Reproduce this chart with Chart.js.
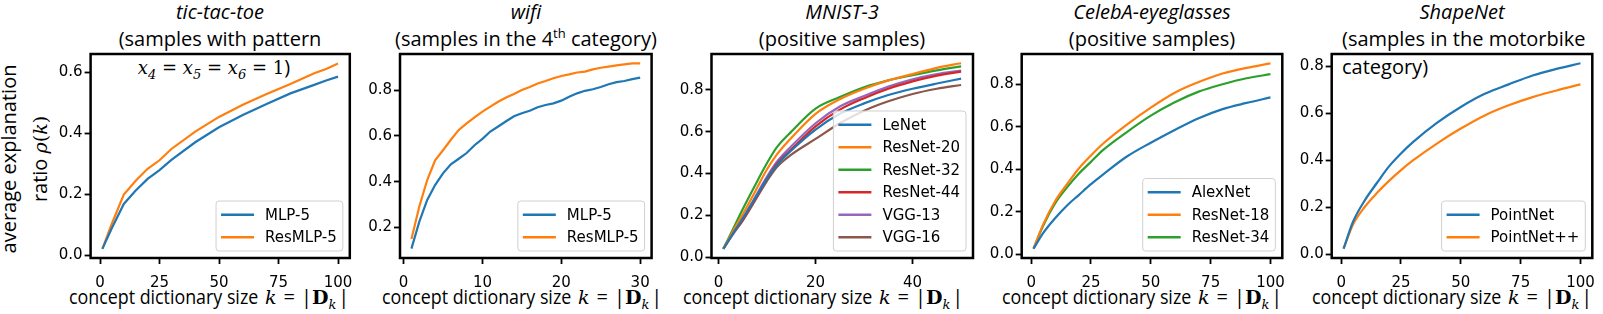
<!DOCTYPE html>
<html>
<head>
<meta charset="utf-8">
<script src="https://cdn.jsdelivr.net/npm/chart.js@4.4.1/dist/chart.umd.min.js"></script>
<style>
  body { margin: 0; width: 1603px; height: 314px; background: #fff; position: relative; overflow: hidden; font-family: "Open Sans", sans-serif; color: #000; }
  canvas { position: absolute; top: 0; }
  .t { position: absolute; white-space: nowrap; font-size: 20px; line-height: 20px; }
  .c { transform: translateX(-50%); }
  .m { font-family: "DejaVu Serif", serif; font-style: italic; font-size: 19px; }
  .m b { font-style: normal; }
  sub, sup { font-size: 13px; line-height: 0; }
  .ylab { position: absolute; left: 24px; top: 159px; transform: translate(-50%, -50%) rotate(-90deg); font-size: 20px; line-height: 31px; text-align: center; white-space: nowrap; }
  .xl { transform-origin: 0 0; }
</style>
</head>
<body>

<div class="t c" style="left:220px; top:2px; font-style:italic">tic-tac-toe</div>
<div class="t c" style="left:220px; top:29px">(samples with pattern</div>
<div class="t c" style="left:214px; top:57px"><span class="m" style="font-size:18px">x<sub>4</sub> = x<sub>5</sub> = x<sub>6</sub> = </span><span class="m" style="font-style:normal; font-size:18px">1</span>)</div>

<div class="t c" style="left:526px; top:2px; font-style:italic">wifi</div>
<div class="t c" style="left:526px; top:29px">(samples in the 4<sup>th</sup> category)</div>

<div class="t c" style="left:842px; top:2px; font-style:italic">MNIST-3</div>
<div class="t c" style="left:842px; top:29px">(positive samples)</div>

<div class="t c" style="left:1152px; top:2px; font-style:italic">CelebA-eyeglasses</div>
<div class="t c" style="left:1152px; top:29px">(positive samples)</div>

<div class="t c" style="left:1462px; top:2px; font-style:italic">ShapeNet</div>
<div class="t" style="left:1342px; top:29px">(samples in the motorbike</div>
<div class="t" style="left:1342px; top:57px">category)</div>

<div class="ylab">average explanation<br>ratio <span class="m">ρ</span><span class="m" style="font-style:normal">(</span><span class="m">k</span><span class="m" style="font-style:normal">)</span></div>

<div id="xlabels"></div>

<canvas id="p1"></canvas>
<canvas id="p2"></canvas>
<canvas id="p3"></canvas>
<canvas id="p4"></canvas>
<canvas id="p5"></canvas>

<script>
// tic-tac-toe
const tttK      = [1, 5, 10, 15, 20, 25, 30, 40, 50, 60, 70, 80, 90, 95, 100]
const tttMLP    = [0.022, 0.090, 0.169, 0.213, 0.251, 0.280, 0.313, 0.371, 0.420, 0.460, 0.496, 0.531, 0.559, 0.573, 0.586]
const tttResMLP = [0.022, 0.105, 0.200, 0.245, 0.284, 0.312, 0.349, 0.406, 0.454, 0.494, 0.529, 0.562, 0.597, 0.611, 0.629]

// wifi
const wifiK      = [1, 2, 3, 4, 5, 6, 7, 8, 9, 10, 11, 12, 13, 14, 15, 16, 17, 18, 19, 20, 21, 22, 23, 24, 25, 26, 27, 28, 29, 30]
const wifiMLP    = [0.107, 0.225, 0.320, 0.385, 0.436, 0.476, 0.500, 0.525, 0.559, 0.587, 0.619, 0.641, 0.664, 0.686, 0.699, 0.710, 0.725, 0.735, 0.742, 0.754, 0.771, 0.786, 0.797, 0.804, 0.814, 0.826, 0.835, 0.840, 0.848, 0.855]
const wifiResMLP = [0.149, 0.291, 0.407, 0.493, 0.537, 0.583, 0.626, 0.655, 0.681, 0.706, 0.728, 0.749, 0.768, 0.783, 0.801, 0.814, 0.829, 0.840, 0.852, 0.862, 0.869, 0.877, 0.881, 0.891, 0.898, 0.903, 0.908, 0.913, 0.917, 0.917]

// MNIST-3
const mnistK    = [1, 3, 5, 7, 10, 12, 15, 20, 25, 30, 35, 40, 45, 50]
const lenet     = [0.04, 0.115, 0.185, 0.26, 0.375, 0.44, 0.51, 0.61, 0.685, 0.735, 0.775, 0.805, 0.83, 0.853]
const resnet20  = [0.04, 0.125, 0.205, 0.29, 0.42, 0.49, 0.57, 0.685, 0.755, 0.805, 0.845, 0.875, 0.905, 0.927]
const resnet32  = [0.04, 0.135, 0.23, 0.32, 0.45, 0.525, 0.60, 0.71, 0.765, 0.812, 0.845, 0.87, 0.893, 0.912]
const resnet44  = [0.04, 0.115, 0.18, 0.255, 0.375, 0.445, 0.515, 0.625, 0.705, 0.76, 0.805, 0.84, 0.868, 0.887]
const vgg13     = [0.04, 0.115, 0.185, 0.265, 0.385, 0.455, 0.53, 0.64, 0.72, 0.77, 0.815, 0.85, 0.875, 0.892]
const vgg16     = [0.04, 0.11, 0.175, 0.25, 0.365, 0.43, 0.49, 0.565, 0.64, 0.70, 0.745, 0.78, 0.805, 0.823]

// CelebA-eyeglasses
const celebK    = [1, 5, 10, 15, 20, 25, 30, 40, 50, 60, 70, 80, 90, 100]
const alexnet   = [0.027, 0.10, 0.17, 0.23, 0.28, 0.33, 0.375, 0.46, 0.525, 0.585, 0.64, 0.683, 0.712, 0.738]
const resnet18  = [0.027, 0.14, 0.25, 0.33, 0.405, 0.465, 0.52, 0.61, 0.69, 0.76, 0.81, 0.85, 0.877, 0.898]
const resnet34  = [0.027, 0.135, 0.24, 0.315, 0.38, 0.435, 0.49, 0.575, 0.652, 0.715, 0.765, 0.80, 0.828, 0.847]

// ShapeNet
const shapeK     = [1, 5, 10, 15, 20, 25, 30, 40, 50, 60, 70, 80, 90, 100]
const pointnet   = [0.024, 0.140, 0.232, 0.305, 0.375, 0.43, 0.478, 0.56, 0.628, 0.684, 0.724, 0.762, 0.79, 0.814]
const pointnetPP = [0.024, 0.128, 0.204, 0.262, 0.313, 0.359, 0.400, 0.472, 0.536, 0.592, 0.635, 0.67, 0.698, 0.724]

// tick labels
const ticks100    = [0, 25, 50, 75, 100]
const ticksWifiX  = [0, 10, 20, 30]
const ticksMnistX = [0, 20, 40]
const tttY        = [0, 0.2, 0.4, 0.6]
const wifiY       = [0.2, 0.4, 0.6, 0.8]
const fullY       = [0, 0.2, 0.4, 0.6, 0.8]

// x axis label text, one per panel (left edge of each label)
const xLabelText = "concept dictionary size"
const xLabelLeft = [69, 382, 683, 1002, 1312]

const C = ["#1f77b4", "#ff7f0e", "#2ca02c", "#d62728", "#9467bd", "#8c564b"]
const TOP = 54, BOTTOM = 258, H = 314, YW = 50

// x labels: sans part squeezed to the narrow width of the original font, math part after it
const xl = document.getElementById("xlabels")
xLabelLeft.forEach(left => {
  const t = document.createElement("div")
  t.className = "t xl"
  t.style.left = left + "px"
  t.style.top = "287px"
  t.textContent = xLabelText
  xl.appendChild(t)
  t.style.transform = `scaleX(${189 / t.offsetWidth})`

  const m = document.createElement("div")
  m.className = "t"
  m.style.left = (left + 196) + "px"
  m.style.top = "287px"
  m.innerHTML = '<span class="m">k</span><span style="margin:0 6px 0 7px">=</span>|<span class="m"><b>D</b><sub>k</sub></span><span style="margin-left:2px">|</span>'
  xl.appendChild(m)
})

const frameLegend = {
  id: "frameLegend",
  afterDatasetsDraw(chart) {
    const { ctx, chartArea: a } = chart
    const labels = chart.data.datasets.map(d => d.label)
    ctx.save()
    ctx.font = '15px "DejaVu Sans"'
    const textW = Math.max(...labels.map(l => ctx.measureText(l).width))
    const rowH = 22.5, padV = 2.5, handle = 33
    const w = 5 + handle + 11 + textW + 6
    const h = labels.length * rowH + padV * 2
    const x = a.right - 7 - w, y = a.bottom - 7 - h
    ctx.beginPath()
    ctx.roundRect(x, y, w, h, 3)
    ctx.fillStyle = "rgba(255,255,255,0.8)"
    ctx.fill()
    ctx.strokeStyle = "#d0d0d0"
    ctx.lineWidth = 1
    ctx.stroke()
    labels.forEach((l, i) => {
      const cy = y + padV + rowH * (i + 0.5)
      ctx.strokeStyle = chart.data.datasets[i].borderColor
      ctx.lineWidth = 2.5
      ctx.beginPath()
      ctx.moveTo(x + 5, cy)
      ctx.lineTo(x + 5 + handle, cy)
      ctx.stroke()
      ctx.fillStyle = "#000"
      ctx.textBaseline = "middle"
      ctx.fillText(l, x + 5 + handle + 11, cy + 1)
    })
    ctx.strokeStyle = "#000"
    ctx.lineWidth = 2.5
    ctx.strokeRect(a.left, a.top, a.width, a.height)
    ctx.restore()
  }
}

function panel(id, L, R, xr, yr, xTicks, yTicks, series, smooth) {
  const el = document.getElementById(id)
  const cl = Math.floor(L) - 70
  const cw = Math.ceil(R) + 30 - cl
  el.width = cw
  el.height = H
  el.style.left = cl + "px"
  const font = { family: "DejaVu Sans", size: 15 }
  const grid = { drawOnChartArea: false, drawTicks: true, tickLength: 6, tickWidth: 1.8, tickColor: "#000" }

  new Chart(el, {
    type: "line",
    data: {
      datasets: series.map(s => ({
        label: s.label,
        data: s.k.map((k, j) => ({ x: k, y: s.v[j] })),
        borderColor: s.color,
        borderWidth: 2.2,
        pointRadius: 0,
        cubicInterpolationMode: smooth ? "monotone" : "default",
        tension: 0,
        fill: false
      }))
    },
    options: {
      responsive: false,
      animation: false,
      layout: { padding: { left: L - cl - YW, right: cl + cw - R, top: TOP, bottom: 0 } },
      plugins: { legend: { display: false }, tooltip: { enabled: false } },
      scales: {
        x: {
          type: "linear",
          min: xr[0], max: xr[1],
          afterBuildTicks: s => { s.ticks = xTicks.map(v => ({ value: v })) },
          afterFit: s => { s.height = H - BOTTOM },
          ticks: { font, color: "#000", padding: 10, maxRotation: 0, autoSkip: false, callback: v => String(v) },
          grid,
          border: { display: false }
        },
        y: {
          min: yr[0], max: yr[1],
          afterBuildTicks: s => { s.ticks = yTicks.map(v => ({ value: v })) },
          afterFit: s => { s.width = YW },
          ticks: { font, color: "#000", padding: 2, autoSkip: false, callback: v => v.toFixed(1) },
          grid,
          border: { display: false }
        }
      }
    },
    plugins: [frameLegend]
  })
}

panel("p1", 90.6, 349.8, [-3.95, 104.95], [-0.008, 0.66], ticks100, tttY, [
  { label: "MLP-5",    k: tttK, v: tttMLP,    color: C[0] },
  { label: "ResMLP-5", k: tttK, v: tttResMLP, color: C[1] }
], false)

panel("p2", 400, 651.6, [-0.45, 31.45], [0.066, 0.958], ticksWifiX, wifiY, [
  { label: "MLP-5",    k: wifiK, v: wifiMLP,    color: C[0] },
  { label: "ResMLP-5", k: wifiK, v: wifiResMLP, color: C[1] }
], false)

panel("p3", 711.5, 973, [-1.45, 52.45], [-0.004, 0.971], ticksMnistX, fullY, [
  { label: "LeNet",     k: mnistK, v: lenet,    color: C[0] },
  { label: "ResNet-20", k: mnistK, v: resnet20, color: C[1] },
  { label: "ResNet-32", k: mnistK, v: resnet32, color: C[2] },
  { label: "ResNet-44", k: mnistK, v: resnet44, color: C[3] },
  { label: "VGG-13",    k: mnistK, v: vgg13,    color: C[4] },
  { label: "VGG-16",    k: mnistK, v: vgg16,    color: C[5] }
], true)

panel("p4", 1021.7, 1282.3, [-3.95, 104.95], [-0.017, 0.942], ticks100, fullY, [
  { label: "AlexNet",   k: celebK, v: alexnet,  color: C[0] },
  { label: "ResNet-18", k: celebK, v: resnet18, color: C[1] },
  { label: "ResNet-34", k: celebK, v: resnet34, color: C[2] }
], true)

panel("p5", 1331.7, 1592.3, [-3.95, 104.95], [-0.0155, 0.8535], ticks100, fullY, [
  { label: "PointNet",   k: shapeK, v: pointnet,   color: C[0] },
  { label: "PointNet++", k: shapeK, v: pointnetPP, color: C[1] }
], true)
</script>
</body>
</html>
